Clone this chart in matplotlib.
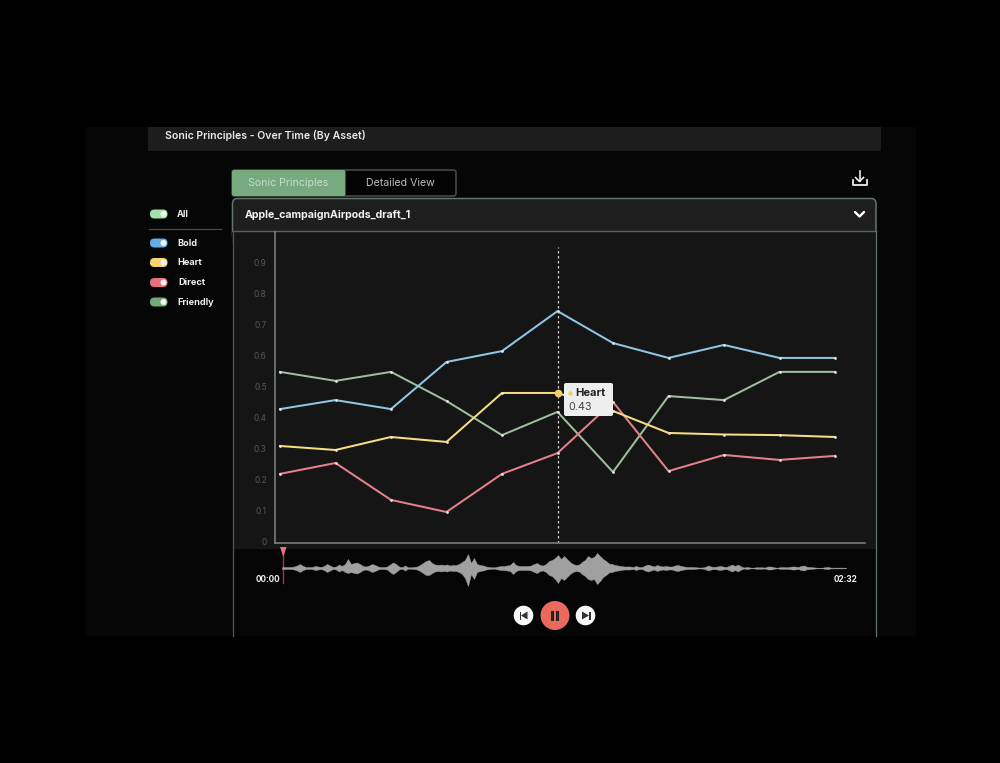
import numpy as np
import matplotlib
matplotlib.use("Agg")
import matplotlib.pyplot as plt
from matplotlib.patches import FancyBboxPatch, Rectangle, Circle, Polygon
from matplotlib.transforms import ScaledTranslation

plt.rcParams['font.family'] = ['Inter', 'DejaVu Sans']

# ---------- data ----------
points = list(range(11))
series_names = ["Bold", "Heart", "Direct", "Friendly"]
bold = [.432, .461, .432, .584, .619, .748, .645, .597, .639, .597, .597]
heart = [.313, .300, .342, .326, .484, .484, .426, .355, .350, .348, .342]
direct = [.223, .258, .139, .100, .223, .290, .455, .232, .284, .268, .281]
friendly = [.552, .523, .552, .458, .348, .423, .229, .474, .461, .552, .552]
colors = ["#8fc6e6", "#f7dd82", "#e5808c", "#9dbf9c"]
toggle_colors = ["#62aee4", "#f8d66d", "#e8707c", "#74a97c"]
y_ticks = [0, .1, .2, .3, .4, .5, .6, .7, .8, .9]
y_labels = ["0", "0.1", "0.2", "0.3", "0.4", "0.5", "0.6", "0.7", "0.8", "0.9"]
tooltip_name = "Heart"
tooltip_value = "0.43"
active_point = 5
time_labels = ["00:00", "02:32"]
# waveform envelope (height above / below the centre line)
wave_up = [1, 1, 1, 1, 1.5, 2.5, 4, 2, 1, 1, 1, 2, 1.5, 1, 2, 4, 2.5, 1, 1.5, 3.5, 2, 4, 9, 4, 5, 5.5, 4, 2, 1.5, 2.5,
           4, 3, 1.5, 1, 1, 1.5, 3.5, 5.5, 4, 1.5, .7, 2.5, .7, .7, 1,
           1.5, 3, 5, 7, 8, 5, 3.5, 3, 3.5, 3, 3.5, 2.5, 3, 3, 4, 6, 8, 14, 5, 10, 4, 3, 2.5, 1.5, 1, .7, .7, 1.5, 2,
           2, 2.5, 3, 6, 3, 2, 2, 2, 2, 2.5, 4, 5, 3, 2.5, 4, 7,
           8, 10, 13, 9, 12, 9, 6, 4, 3, 3.5, 6, 8, 12, 10, 11, 15, 12, 9, 7, 4.5, 4, 3, 2.5, 2, 1.5, 1.5, 1.5, 1, 2, 1,
           1, 2.5, 3.5, 2.5, 1.5, 3, 2,
           1.5, 2, 1.5, 1.5, 2.5, 3, 2, 1.5, 1, 1, 1, .7, .5, .5, 1, 2.5, 1.5, 1, 1.5, 2, 1.5, 1, 2, 3.5, 2, 3.5, 1.5, .5,
           1, .5, .3, .7, .7, .7, .5, 1.5, 1.5, .7, .3, .8, 1, .7, 1, 1.5, 1.5, 1, 2, 2.5, 1.2, 1, .7, .4, .3, .3, .8, 1,
           .4, .4, .4, .4, .4, .3]
wave_down = [1, 1, 1, 1, 1.5, 2.5, 4, 2, 1, 1, 1, 2, 1.5, 1, 2, 4, 2.5, 1, 1.5, 3.5, 2, 4, 5, 4, 5, 5.5, 4, 2, 1.5, 2.5,
             4, 3, 1.5, 1, 1, 1.5, 4, 6, 4, 1.5, .7, 2.5, .7, .7, 1,
             1.5, 3, 5, 7, 7, 5, 3.5, 3, 3.5, 3, 3.5, 2.5, 3, 3, 4, 6, 10, 18, 6, 11, 4, 3, 2.5, 1.5, 1, .7, .7, 1.5, 2,
             2, 2.5, 3, 6, 3, 2, 2, 2, 2, 2.5, 4, 5, 3, 2.5, 4, 7,
             8, 11, 15, 10, 12, 9, 6, 4, 3, 3.5, 6, 8, 11, 12, 11, 16, 13, 9, 7, 4.5, 4, 3, 2.5, 2, 1.5, 1.5, 1.5, 1, 2, 1,
             1, 2.5, 3.5, 2.5, 1.5, 3, 2,
             1.5, 2, 1.5, 1.5, 2.5, 3, 2, 1.5, 1, 1, 1, .7, .5, .5, 1, 2.5, 1.5, 1, 1.5, 2, 1.5, 1, 2, 3.5, 2, 3.5, 1.5, .5,
             1, .5, .3, .7, .7, .7, .5, 1.5, 1.5, .7, .3, .8, 1, .7, 1, 1.5, 1.5, 1, 2, 2.5, 1.2, 1, .7, .4, .3, .3, .8, 1,
             .4, .4, .4, .4, .4, .3]

W, H = 1000, 763
fig = plt.figure(figsize=(10, 7.63), dpi=100, facecolor="black")


def px_axes(x0, y0, x1, y1, **kw):
    return fig.add_axes([x0 / W, 1 - y1 / H, (x1 - x0) / W, (y1 - y0) / H], **kw)


# ---------- UI layer ----------
ui = px_axes(0, 0, W, H)
ui.set_xlim(0, W)
ui.set_ylim(H, 0)
ui.axis("off")


def rrect(x0, y0, x1, y1, r, fc, ec="none", lw=0, z=1):
    p = FancyBboxPatch((x0 + r, y0 + r), x1 - x0 - 2 * r, y1 - y0 - 2 * r,
                       boxstyle=f"round,pad={r},rounding_size={r}", fc=fc, ec=ec, lw=lw, zorder=z)
    ui.add_patch(p)


ui.add_patch(Rectangle((85, 127), 831, 509, fc="#060606", ec="none", zorder=0))
ui.add_patch(Rectangle((148, 127), 733, 24, fc="#1d1d1d", ec="none", zorder=1))
ui.text(165, 135.5, "Sonic Principles - Over Time (By Asset)", color="#e8e8e8", fontsize=7.6,
        fontweight="semibold", va="center", ha="left", zorder=2)

# tabs
rrect(232, 170, 456, 196, 2.5, "#030303", ec="#4d5a50", lw=1, z=1)
rrect(232, 170, 345.5, 196, 2, "#78aa80", z=2)
ui.text(288, 183.5, "Sonic Principles", color="#c5dcc7", fontsize=7.6, ha="center", va="center", zorder=3)
ui.text(400.5, 183.5, "Detailed View", color="#bdbdbd", fontsize=7.6, ha="center", va="center", zorder=3)

# main panel
ui.add_patch(Rectangle((232.5, 549), 643.5, 87, fc="#050505", ec="none", zorder=1))
ui.add_patch(Rectangle((233, 231), 643, 318, fc="#151515", ec="none", zorder=1))
rrect(232.5, 198.5, 876, 240, 5, "#1d1e1d", ec="#64736a", lw=1.1, z=1.2)
ui.add_patch(Rectangle((232, 232), 645, 12, fc="#151515", ec="none", zorder=1.3))
ui.plot([232.5, 876], [231, 231], color="#56625a", lw=1, zorder=2)
ui.plot([232.5, 232.5], [231, 636], color="#4f5a53", lw=0.9, zorder=2)
ui.plot([876, 876], [231, 636], color="#66736a", lw=0.9, zorder=2)
ui.text(245, 214.5, "Apple_campaignAirpods_draft_1", color="#f2f2f2", fontsize=7.6, fontweight="bold",
        ha="left", va="center", zorder=3)
ui.plot([855, 859.5, 864], [212, 216.5, 212], color="white", lw=1.7, solid_capstyle="round", zorder=3)

# download icon
ui.plot([859.5, 859.5], [171, 181], color="white", lw=1.1, zorder=3)
ui.plot([855.5, 859.5, 863.5], [177.5, 181.5, 177.5], color="white", lw=1.1, zorder=3)
ui.plot([852.5, 852.5, 866.5, 866.5], [180, 184.5, 184.5, 180], color="white", lw=1.2, zorder=3,
        solid_joinstyle="round")

# left toggles
toggle_rows = [("All", 214, "#a5e0ad", 177), ("Bold", 243, toggle_colors[0], 177),
               ("Heart", 262.5, toggle_colors[1], 177), ("Direct", 282.5, toggle_colors[2], 178),
               ("Friendly", 302, toggle_colors[3], 177)]
for name, yy, col, tx in toggle_rows:
    rrect(150, yy - 4.5, 167.5, yy + 4.5, 4.4, col, z=2)
    ui.add_patch(Circle((163.5, yy), 3, fc="#f4f4f4", ec="none", zorder=3))
    ui.text(tx, yy + 0.3, name, color="#ececec", fontsize=6.6, fontweight="bold", ha="left", va="center", zorder=3)
ui.plot([149, 221], [228.5, 228.5], color="#4a4a4a", lw=0.9, zorder=2)

# transport buttons
ui.add_patch(Circle((523.5, 615.5), 9.8, fc="#f7f7f7", ec="none", zorder=3))
ui.add_patch(Circle((555, 615.5), 14.5, fc="#ea6a5e", ec="none", zorder=3))
ui.add_patch(Circle((585.5, 615.5), 9.8, fc="#f7f7f7", ec="none", zorder=3))
ui.add_patch(Rectangle((551, 610.5), 2.6, 10, fc="#252525", ec="none", zorder=4))
ui.add_patch(Rectangle((556.3, 610.5), 2.6, 10, fc="#252525", ec="none", zorder=4))
ui.add_patch(Rectangle((519.5, 611.5), 1.5, 8, fc="#333333", ec="none", zorder=4))
ui.add_patch(Polygon([[527.5, 611.5], [527.5, 619.5], [521, 615.5]], fc="#333333", ec="none", zorder=4))
ui.add_patch(Rectangle((589, 611.5), 1.5, 8, fc="#333333", ec="none", zorder=4))
ui.add_patch(Polygon([[582, 611.5], [582, 619.5], [589, 615.5]], fc="#333333", ec="none", zorder=4))

ui.text(268, 580, time_labels[0], color="#f2f2f2", fontsize=5.9, fontweight="bold", ha="center", va="center", zorder=3)
ui.text(846, 580, time_labels[1], color="#f2f2f2", fontsize=5.9, fontweight="bold", ha="center", va="center", zorder=3)

# ---------- line chart ----------
ax = px_axes(275, 232, 865, 543)
ax.patch.set_alpha(0)
ax.set_xlim(-5 / 55.5, 585 / 55.5)
ax.set_ylim(0, 311 / 310)
for s in ("top", "right"):
    ax.spines[s].set_visible(False)
for s in ("left", "bottom"):
    ax.spines[s].set_color("#858585")
    ax.spines[s].set_linewidth(1.1)
ax.set_xticks([])
ax.set_yticks(y_ticks)
ax.set_yticklabels(y_labels, color="#575757", fontsize=5.9)
ax.tick_params(axis="y", length=0, pad=6)
shift = ScaledTranslation(0, 1.5 / 100, fig.dpi_scale_trans)
for lab in ax.get_yticklabels():
    lab.set_transform(lab.get_transform() + shift)

ax.plot([points[active_point]] * 2, [0, 0.955], color="#cfcfcf", lw=0.9, ls=(0, (2, 2)), zorder=2)
for vals, col in zip([friendly, direct, heart, bold], [colors[3], colors[2], colors[1], colors[0]]):
    ax.plot(points, vals, color=col, lw=1.45, zorder=3, solid_joinstyle="round")
    ax.plot(points, vals, ls="none", marker="o", ms=2.0, mfc="#e6e6e6", mec="none", zorder=4)
ax.plot([points[active_point]], [heart[active_point]], marker="o", ms=5.5, mfc="#f2cd70", mec="none", zorder=5)

# tooltip (pixel placement, drawn above the chart)
top = px_axes(0, 0, W, H)
top.set_xlim(0, W)
top.set_ylim(H, 0)
top.axis("off")
top.patch.set_alpha(0)
top.add_patch(FancyBboxPatch((566, 385), 45, 29, boxstyle="round,pad=2,rounding_size=2",
                             fc="#eeeeee", ec="none", zorder=6))
top.add_patch(Circle((570.5, 393.5), 2.2, fc="#f2cd70", ec="none", zorder=7))
top.text(575.5, 393.5, tooltip_name, color="#222222", fontsize=8, fontweight="bold", ha="left", va="center", zorder=7)
top.text(568.5, 406.5, tooltip_value, color="#444444", fontsize=7.8, ha="left", va="center", zorder=7)

# ---------- waveform ----------
wv = px_axes(282, 548, 846, 588)
wv.patch.set_alpha(0)
wv.axis("off")
wv.set_xlim(0, len(wave_up) - 1)
wv.set_ylim(-20, 20)
samples = np.arange(len(wave_up))
wv.fill_between(samples, -np.array(wave_down), wave_up, color="#a0a0a0", lw=0.3, zorder=2)

# playhead
top.add_patch(Polygon([[280, 547], [286.5, 547], [283.3, 557]], fc="#e9708a", ec="none", zorder=6))
top.plot([283.3, 283.3], [552, 583], color="#a0364f", lw=1, zorder=5)

fig.savefig("out.png", dpi=100, facecolor="black")
